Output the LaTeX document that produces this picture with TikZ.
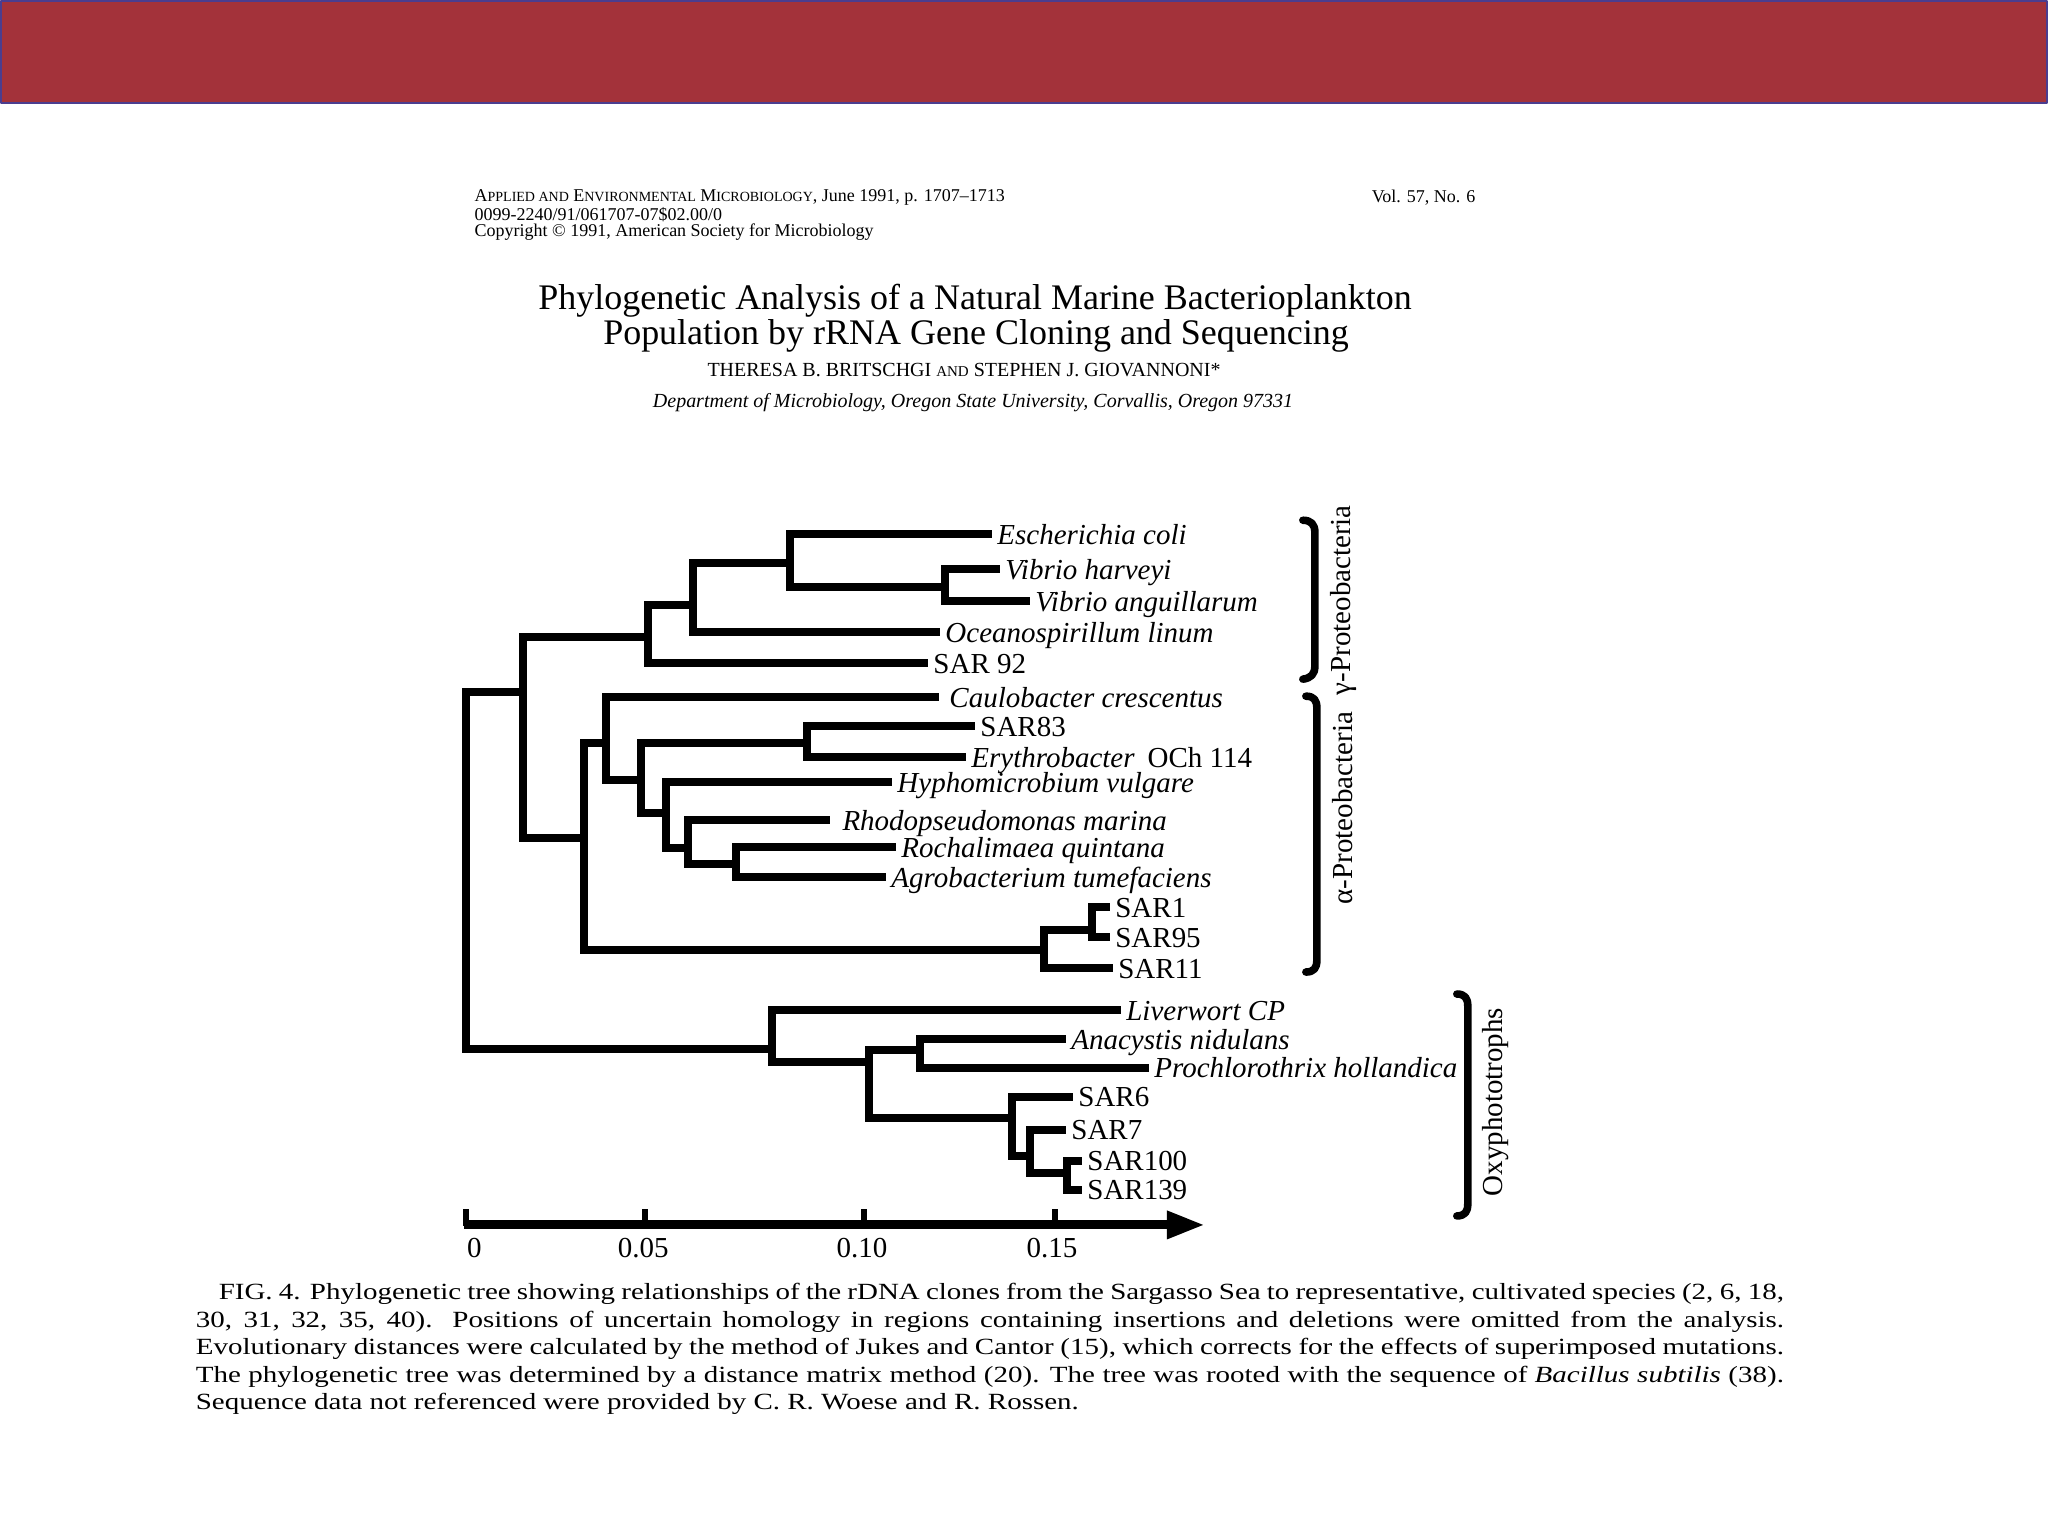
\documentclass[tikz,border=0pt]{standalone}
\usepackage{fontspec}
\setmainfont{Liberation Serif}
\newfontfamily\capfont{Liberation Serif}[FakeStretch=1.25]
\usetikzlibrary{arrows.meta}
\definecolor{banner}{HTML}{A3323A}
\definecolor{bannerline}{HTML}{4B3D8F}
\newcommand\smc[2]{{\fontsize{#1}{#1}\selectfont #2}}
\tikzset{
  branch/.style={line width=3.9pt, line join=miter, line cap=butt},
  leaf/.style={anchor=west, inner xsep=2.5pt, inner ysep=0pt, text height=11.5pt, text depth=1.5pt, font=\fontsize{14.5}{15}\selectfont},
  group/.style={rotate=90, inner sep=0pt, font=\fontsize{14.5}{15}\selectfont},
  brace/.style={line width=3.8pt, line cap=round},
  head/.style={anchor=west, inner sep=0pt, font=\fontsize{9}{10}\selectfont},
}
\begin{document}
\begin{tikzpicture}[x=0.5pt, y=-0.5pt, >=stealth, line join=round]
  \fill[white] (0,0) rectangle (2048,1536);
  \draw[bannerline, fill=banner, line width=1pt] (0.5,0.5) rectangle (2047.5,103);
  % header of the paper
  \node[head] (jrnl) at (474,197) {A\smc{7}{PPLIED AND} E\smc{7}{NVIRONMENTAL} M\smc{7}{ICROBIOLOGY}, June 1991, p. 1707--1713};
  \node[head, anchor=east] (vol) at (1476,197) {Vol. 57, No. 6};
  \node[head] (issn) at (474,214) {0099-2240/91/061707-07\$02.00/0};
  \node[head] (copy) at (474,232) {Copyright \textcopyright{} 1991, American Society for Microbiology};
  \node[inner sep=0pt, font=\fontsize{18}{20}\selectfont] (title1) at (975,300) {Phylogenetic Analysis of a Natural Marine Bacterioplankton};
  \node[inner sep=0pt, font=\fontsize{18}{20}\selectfont] (title2) at (976,336) {Population by rRNA Gene Cloning and Sequencing};
  \node[inner sep=0pt, font=\fontsize{10}{12}\selectfont] (auth) at (964,370) {THERESA B. BRITSCHGI \smc{7.5}{AND} STEPHEN J. GIOVANNONI*};
  \node[inner sep=0pt, font=\fontsize{10}{12}\selectfont\itshape] (dept) at (973,402) {Department of Microbiology, Oregon State University, Corvallis, Oregon 97331};
  % inner nodes of the tree
  \coordinate (nRoot) at (466,870);
  \coordinate (nProt) at (523,692);
  \coordinate (nGam) at (648,637);
  \coordinate (nGamB) at (693,605);
  \coordinate (nEnt) at (790,563);
  \coordinate (nVib) at (945,587);
  \coordinate (nAlp) at (584,838);
  \coordinate (nAlpB) at (606,743);
  \coordinate (nAlpC) at (641,780);
  \coordinate (nSarE) at (807,743);
  \coordinate (nAlpD) at (666,813);
  \coordinate (nAlpE) at (688,848);
  \coordinate (nRhi) at (736,864);
  \coordinate (nSar11) at (1044,950);
  \coordinate (nSar1) at (1092,930);
  \coordinate (nOxy) at (772,1049);
  \coordinate (nCya) at (869,1062);
  \coordinate (nSyn) at (920,1050);
  \coordinate (nSarA) at (1012,1118);
  \coordinate (nSarB) at (1030,1156);
  \coordinate (nSarC) at (1067,1173);
  % leaves
  \node[leaf] (ecoli) at (992,534) {\textit{Escherichia coli}};
  \node[leaf] (vharv) at (1000,569) {\textit{Vibrio harveyi}};
  \node[leaf] (vang) at (1030,601) {\textit{Vibrio anguillarum}};
  \node[leaf] (ocean) at (940,632) {\textit{Oceanospirillum linum}};
  \node[leaf] (sar92) at (928,663) {SAR 92};
  \node[leaf, inner xsep=5pt] (caulo) at (939,697) {\textit{Caulobacter crescentus}};
  \node[leaf] (sar83) at (975,726) {SAR83};
  \node[leaf] (eryth) at (966,757) {\textit{Erythrobacter}\hspace{0.45em}OCh 114};
  \node[leaf] (hypho) at (892,782) {\textit{Hyphomicrobium vulgare}};
  \node[leaf, inner xsep=6pt] (rhodo) at (830,820) {\textit{Rhodopseudomonas marina}};
  \node[leaf] (rocha) at (896,847) {\textit{Rochalimaea quintana}};
  \node[leaf] (agro) at (886,877) {\textit{Agrobacterium tumefaciens}};
  \node[leaf] (sar1) at (1110,907) {SAR1};
  \node[leaf] (sar95) at (1110,937) {SAR95};
  \node[leaf] (sar11) at (1113,968) {SAR11};
  \node[leaf] (liver) at (1121,1010) {\textit{Liverwort CP}};
  \node[leaf] (anacy) at (1066,1039) {\textit{Anacystis nidulans}};
  \node[leaf] (prochl) at (1149,1068) {\textit{Prochlorothrix hollandica}};
  \node[leaf] (sar6) at (1073,1097) {SAR6};
  \node[leaf] (sar7) at (1066,1130) {SAR7};
  \node[leaf] (sar100) at (1082,1161) {SAR100};
  \node[leaf] (sar139) at (1082,1190) {SAR139};
  % branches
  \foreach \a/\b in {nRoot/nProt, nRoot/nOxy, nProt/nGam, nProt/nAlp,
      nGam/nGamB, nGam/sar92.west, nGamB/nEnt, nGamB/ocean.west,
      nEnt/ecoli.west, nEnt/nVib, nVib/vharv.west, nVib/vang.west,
      nAlp/nAlpB, nAlp/nSar11, nAlpB/caulo.west, nAlpB/nAlpC,
      nAlpC/nSarE, nAlpC/nAlpD, nSarE/sar83.west, nSarE/eryth.west,
      nAlpD/hypho.west, nAlpD/nAlpE, nAlpE/rhodo.west, nAlpE/nRhi,
      nRhi/rocha.west, nRhi/agro.west, nSar11/nSar1, nSar11/sar11.west,
      nSar1/sar1.west, nSar1/sar95.west, nOxy/liver.west, nOxy/nCya,
      nCya/nSyn, nCya/nSarA, nSyn/anacy.west, nSyn/prochl.west,
      nSarA/sar6.west, nSarA/nSarB, nSarB/sar7.west, nSarB/nSarC,
      nSarC/sar100.west, nSarC/sar139.west}
    \draw[branch] (\a) |- (\b);
  % brackets and group names
  \draw[brace] (1303,520) .. controls (1311,520) and (1315,524) .. (1315,532) -- (1315,666) .. controls (1315,674) and (1311,678) .. (1303,679);
  \draw[brace] (1306,696) .. controls (1314,696) and (1317,700) .. (1317,708) -- (1317,960) .. controls (1317,968) and (1314,972) .. (1306,972);
  \draw[brace] (1457,994) .. controls (1465,994) and (1468,998) .. (1468,1006) -- (1468,1204) .. controls (1468,1212) and (1465,1216) .. (1457,1216);
  \node[group] (gamma) at (1344,600) {γ-Proteobacteria};
  \node[group] (alpha) at (1343,808) {α-Proteobacteria};
  \node[group] (oxy) at (1496,1102) {Oxyphototrophs};
  % distance scale
  \coordinate (ax0) at (464,1225);
  \coordinate (axend) at (1205,1225);
  \draw[line width=4.5pt, -{Triangle[length=19pt,width=13pt]}] (ax0) -- (axend);
  \foreach \x/\lx/\v/\n in {466/474/0/t0, 645/643/0.05/t1, 864/862/0.10/t2, 1055/1052/0.15/t3} {
    \draw[line width=2.8pt] (\x,1226) -- (\x,1209);
    \node[inner sep=0pt, font=\fontsize{14.5}{15}\selectfont] (\n) at (\lx,1248) {\v};
  }
  % figure legend
  \node[anchor=north west, inner sep=0pt, text width=794.5pt, align=justify, font=\capfont\fontsize{11.6}{13.75}\selectfont] (legend) at (195,1283)
    {\hspace*{11.5pt}FIG. 4. Phylogenetic tree showing relationships of the rDNA clones from the Sargasso Sea to representative, cultivated species (2, 6, 18,\linebreak
    30, 31, 32, 35, 40). Positions of uncertain homology in regions containing insertions and deletions were omitted from the analysis.\linebreak
    Evolutionary distances were calculated by the method of Jukes and Cantor (15), which corrects for the effects of superimposed mutations.\linebreak
    The phylogenetic tree was determined by a distance matrix method (20). The tree was rooted with the sequence of \textit{Bacillus subtilis} (38).\linebreak
    Sequence data not referenced were provided by C. R. Woese and R. Rossen.};
\end{tikzpicture}
\end{document}
